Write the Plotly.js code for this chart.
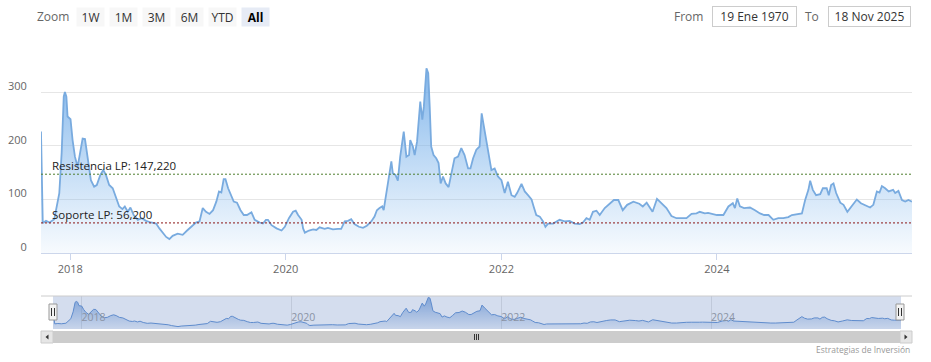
<!DOCTYPE html>
<html><head><meta charset="utf-8">
<script src="https://cdn.plot.ly/plotly-3.0.1.min.js"></script>
<style>html,body{margin:0;padding:0;background:#fff;overflow:hidden}#chart{width:931px;height:362px}</style>
</head><body><div id="chart"></div>
<script>
// ---------- DATA ----------
const dates = [
'2017-09-24','2017-09-30','2017-10-11','2017-10-23','2017-11-08','2017-11-25','2017-12-03','2017-12-10','2017-12-14','2017-12-19','2017-12-23',
'2018-01-02','2018-01-09','2018-01-17','2018-01-26','2018-02-04','2018-02-12','2018-02-20','2018-03-01','2018-03-12','2018-03-23','2018-04-01','2018-04-13','2018-04-23','2018-05-02','2018-05-13','2018-05-25','2018-06-05','2018-06-16','2018-06-27','2018-07-05','2018-07-15','2018-07-24','2018-08-04','2018-08-18','2018-08-31','2018-09-15','2018-10-02','2018-10-19','2018-10-30','2018-11-11','2018-11-22','2018-12-03','2018-12-14','2018-12-31',
'2019-01-17','2019-02-01','2019-02-14','2019-03-03','2019-03-15','2019-03-26','2019-04-06','2019-04-18','2019-04-30','2019-05-11','2019-05-20','2019-05-28','2019-06-05','2019-06-11','2019-06-20','2019-07-01','2019-07-09','2019-07-20','2019-08-01','2019-08-12','2019-08-23','2019-09-07','2019-09-18','2019-10-05','2019-10-16','2019-10-26','2019-11-02','2019-11-14','2019-12-01','2019-12-18','2019-12-29',
'2020-01-12','2020-01-26','2020-02-04','2020-02-12','2020-02-24','2020-02-29','2020-03-06','2020-03-20','2020-04-03','2020-04-14','2020-04-25','2020-05-12','2020-05-23','2020-06-09','2020-06-26','2020-07-07','2020-07-19','2020-07-30','2020-08-10','2020-08-21','2020-09-05','2020-09-19','2020-10-02','2020-10-17','2020-10-28','2020-11-05','2020-11-14','2020-11-23','2020-11-28','2020-12-07','2020-12-16','2020-12-24','2020-12-29',
'2021-01-07','2021-01-15','2021-01-23','2021-02-04','2021-02-13','2021-02-22','2021-02-26','2021-03-07','2021-03-13','2021-03-21','2021-04-01','2021-04-08','2021-04-13','2021-04-22','2021-04-28','2021-05-03','2021-05-08','2021-05-16','2021-05-25','2021-06-02','2021-06-09','2021-06-17','2021-06-26','2021-07-06','2021-07-15','2021-07-26','2021-08-07','2021-08-18','2021-08-29','2021-09-10','2021-09-18','2021-09-27','2021-10-08','2021-10-19','2021-10-26','2021-11-05','2021-11-16','2021-11-28','2021-12-09','2021-12-20',
'2022-01-01','2022-01-12','2022-01-23','2022-02-04','2022-02-15','2022-02-23','2022-03-10','2022-03-21','2022-04-01','2022-04-13','2022-04-20','2022-04-29','2022-05-11','2022-05-22','2022-05-30','2022-06-08','2022-06-25','2022-07-17','2022-08-03','2022-08-20','2022-09-06','2022-09-23','2022-10-04','2022-10-16','2022-10-27','2022-11-07','2022-11-19','2022-11-30','2022-12-17',
'2023-01-03','2023-01-17','2023-02-01','2023-02-16','2023-03-03','2023-03-24','2023-04-13','2023-04-25','2023-05-08','2023-05-17','2023-05-28','2023-06-12','2023-06-27','2023-07-14','2023-07-31','2023-08-17','2023-09-03','2023-09-20','2023-10-07','2023-10-24','2023-11-04','2023-11-21','2023-12-02','2023-12-14',
'2024-01-01','2024-01-23','2024-02-09','2024-02-24','2024-03-02','2024-03-10','2024-03-19','2024-04-02','2024-04-22','2024-05-09','2024-05-26','2024-06-09','2024-06-24','2024-07-10','2024-07-27','2024-08-13','2024-08-30','2024-09-11','2024-09-28','2024-10-15','2024-10-26','2024-11-06','2024-11-12','2024-11-21','2024-12-02','2024-12-16','2024-12-25',
'2025-01-07','2025-01-14','2025-01-22','2025-01-30','2025-02-08','2025-02-22','2025-03-05','2025-03-18','2025-04-02','2025-04-19','2025-05-03','2025-05-17','2025-06-03','2025-06-14','2025-06-26','2025-07-05','2025-07-13','2025-07-24','2025-08-05','2025-08-20','2025-08-27','2025-09-07','2025-09-19','2025-09-30','2025-10-11','2025-10-23'
];
const values = [
227,56,60,57,63,112,187,292,301,292,255,
250,211,180,161,193,214,213,174,136,124,127,146,155,146,127,121,105,87,82,87,77,85,71,62,65,60,57,55,46,37,30,26,32,36,
34,42,49,57,59,84,77,73,80,96,115,113,138,138,121,105,96,94,80,71,71,76,62,57,55,62,62,52,46,42,49,
65,77,79,71,62,46,38,42,44,43,48,45,47,44,45,45,59,60,63,54,49,47,51,59,68,80,84,87,80,112,143,171,149,
146,135,180,227,180,183,211,199,183,208,283,249,273,345,336,273,199,183,177,168,130,143,130,123,146,177,180,196,183,158,158,177,193,199,261,227,196,155,158,143,
136,112,133,108,105,112,129,115,108,100,87,71,68,59,49,55,55,62,59,60,55,54,57,65,62,77,79,71,84,
93,99,99,80,90,96,92,87,94,87,77,101,93,84,69,65,65,65,73,74,77,74,75,73,
71,71,87,93,84,102,87,84,85,80,74,71,71,62,65,65,67,71,72,74,99,118,135,118,108,110,121,
121,108,127,130,112,94,90,77,87,100,93,90,85,90,115,113,125,121,115,118,112,116,99,96,99,96
];
const resistance = 147.22;
const support = 56.2;
const resistanceLabel = 'Resistencia LP: 147,220';
const supportLabel = 'Soporte LP: 56,200';
const yTickValues = [0, 100, 200, 300];
const xTickYears = ['2018', '2020', '2022', '2024'];
const zoomLabel = 'Zoom';
const zoomButtons = ['1W', '1M', '3M', '6M', 'YTD', 'All'];
const activeButton = 'All';
const fromLabel = 'From', toLabel = 'To';
const fromDate = '19 Ene 1970', toDate = '18 Nov 2025';
const credit = 'Estrategias de Inversión';

// ---------- LAYOUT HELPERS ----------
const W = 931, H = 362, ML = 41, MR = 19, MT = 40, MB = 33;
const PW = W - ML - MR, PH = H - MT - MB;
const px = x => (x - ML) / PW;
const py = y => (H - MB - y) / PH;
const FONT = 'Open Sans, DejaVu Sans, sans-serif';
const xTickVals = xTickYears.map(y => y + '-01-01');

const traces = [
  {
    x: dates, y: values, type: 'scatter', mode: 'lines',
    line: {color: '#79abdf', width: 1.8},
    fill: 'tozeroy',
    fillgradient: {type: 'vertical', start: 0, stop: 340,
      colorscale: [[0, 'rgba(124,181,236,0.06)'], [1, 'rgba(110,170,232,0.85)']]},
    hoverinfo: 'skip', xaxis: 'x', yaxis: 'y'
  },
  {
    x: dates, y: values, type: 'scatter', mode: 'lines',
    line: {color: '#5d8fd2', width: 1},
    fill: 'tozeroy',
    fillgradient: {type: 'vertical', start: 0, stop: 340,
      colorscale: [[0, 'rgba(93,143,210,0.1)'], [1, 'rgba(93,143,210,0.7)']]},
    hoverinfo: 'skip', xaxis: 'x2', yaxis: 'y2'
  }
];

const shapes = [
  // support / resistance
  {type: 'line', xref: 'x domain', x0: 0, x1: 1, yref: 'y', y0: resistance, y1: resistance,
   line: {color: '#4f7f2f', width: 1, dash: '2px,2px'}},
  {type: 'line', xref: 'x domain', x0: 0, x1: 1, yref: 'y', y0: support, y1: support,
   line: {color: '#8b1515', width: 1, dash: '2px,2px'}},
  // navigator mask
  {type: 'rect', xref: 'x2 domain', x0: 0, x1: 1, yref: 'y2 domain', y0: 0, y1: 1,
   fillcolor: 'rgba(102,133,194,0.28)', line: {width: 0}, layer: 'above'},
  // navigator top outline
  {type: 'line', xref: 'paper', x0: 0, x1: 1, yref: 'paper', y0: py(296), y1: py(296),
   line: {color: '#cccccc', width: 1}},
  // scrollbar track
  {type: 'rect', xref: 'paper', yref: 'paper', x0: px(41), x1: px(912), y0: py(343), y1: py(331),
   fillcolor: '#f2f2f2', line: {width: 0}},
  // scrollbar thumb
  {type: 'rect', xref: 'paper', yref: 'paper', x0: px(53), x1: px(900), y0: py(343), y1: py(331),
   fillcolor: '#cccccc', line: {width: 0}},
  // arrow buttons
  {type: 'rect', xref: 'paper', yref: 'paper', x0: px(41), x1: px(53), y0: py(343), y1: py(331),
   fillcolor: '#e6e6e6', line: {color: '#cccccc', width: 1}},
  {type: 'rect', xref: 'paper', yref: 'paper', x0: px(900), x1: px(912), y0: py(343), y1: py(331),
   fillcolor: '#e6e6e6', line: {color: '#cccccc', width: 1}},
  {type: 'path', xref: 'paper', yref: 'paper', fillcolor: '#333', line: {width: 0},
   path: `M${px(45.5)},${py(337)} L${px(48.5)},${py(334.5)} L${px(48.5)},${py(339.5)} Z`},
  {type: 'path', xref: 'paper', yref: 'paper', fillcolor: '#333', line: {width: 0},
   path: `M${px(907.5)},${py(337)} L${px(904.5)},${py(334.5)} L${px(904.5)},${py(339.5)} Z`}
];
// grip lines in the scrollbar
[-2, 0, 2].forEach(d => shapes.push({type: 'line', xref: 'paper', yref: 'paper',
  x0: px(476.5 + d), x1: px(476.5 + d), y0: py(334), y1: py(340), line: {color: '#333', width: 1}}));
// navigator handles
[53, 900].forEach(h => {
  shapes.push({type: 'rect', xref: 'paper', yref: 'paper', x0: px(h - 4), x1: px(h + 4),
    y0: py(320), y1: py(304), fillcolor: '#f2f2f2', line: {color: '#999999', width: 1}});
  [-1.5, 1.5].forEach(d => shapes.push({type: 'line', xref: 'paper', yref: 'paper',
    x0: px(h + d), x1: px(h + d), y0: py(308), y1: py(316), line: {color: '#333', width: 1}}));
});

const annotations = [
  {xref: 'paper', yref: 'y', x: px(51), y: resistance, xanchor: 'left', yanchor: 'bottom',
   text: resistanceLabel, showarrow: false, font: {family: FONT, size: 11.5, color: '#222'}, borderpad: 0, yshift: 0},
  {xref: 'paper', yref: 'y', x: px(51), y: support, xanchor: 'left', yanchor: 'bottom',
   text: supportLabel, showarrow: false, font: {family: FONT, size: 11.5, color: '#222'}, borderpad: 0, yshift: 0},
  {xref: 'paper', yref: 'paper', x: px(71), y: py(16), xanchor: 'right', yanchor: 'middle',
   text: zoomLabel, showarrow: false, font: {family: FONT, size: 12, color: '#666'}},
  {xref: 'paper', yref: 'paper', x: px(705), y: py(16), xanchor: 'right', yanchor: 'middle',
   text: fromLabel, showarrow: false, font: {family: FONT, size: 12, color: '#666'}},
  {xref: 'paper', yref: 'paper', x: px(821), y: py(16), xanchor: 'right', yanchor: 'middle',
   text: toLabel, showarrow: false, font: {family: FONT, size: 12, color: '#666'}},
  {xref: 'paper', yref: 'paper', x: px(712), y: py(6), xanchor: 'left', yanchor: 'top',
   text: fromDate, showarrow: false, width: 83, height: 19, borderpad: 0, bgcolor: '#fff',
   bordercolor: '#cccccc', borderwidth: 1, font: {family: FONT, size: 12, color: '#333'}},
  {xref: 'paper', yref: 'paper', x: px(828), y: py(6), xanchor: 'left', yanchor: 'top',
   text: toDate, showarrow: false, width: 81, height: 19, borderpad: 0, bgcolor: '#fff',
   bordercolor: '#cccccc', borderwidth: 1, font: {family: FONT, size: 12, color: '#333'}},
  {xref: 'paper', yref: 'paper', x: px(912), y: py(349), xanchor: 'right', yanchor: 'middle',
   text: credit, showarrow: false, font: {family: FONT, size: 8.5, color: '#999'}}
];
zoomButtons.forEach((b, i) => {
  const active = b === activeButton;
  annotations.push({xref: 'paper', yref: 'paper', x: px(76 + 33 * i), y: py(7),
    xanchor: 'left', yanchor: 'top', text: active ? '<b>' + b + '</b>' : b, showarrow: false,
    width: 27, height: 18, borderpad: 0, bgcolor: active ? '#e6ebf5' : '#f7f7f7',
    font: {family: FONT, size: 12, color: active ? '#000' : '#333'}});
});

const layout = {
  width: W, height: H,
  margin: {l: ML, r: MR, t: MT, b: MB, pad: 0},
  paper_bgcolor: '#fff', plot_bgcolor: '#fff',
  showlegend: false, hovermode: false,
  font: {family: FONT, size: 11, color: '#666'},
  xaxis: {type: 'date', domain: [0, 1], anchor: 'y', autorange: true,
    tickmode: 'array', tickvals: xTickVals, ticktext: xTickYears,
    ticks: 'outside', ticklen: 6, tickcolor: '#ccd6eb', tickwidth: 1,
    showgrid: false, showline: true, linecolor: '#ccd6eb', linewidth: 1, zeroline: false,
    tickfont: {family: FONT, size: 11, color: '#666'}, fixedrange: true},
  yaxis: {domain: [py(253), 1], anchor: 'x', range: [0, 398],
    tickmode: 'array', tickvals: yTickValues, ticktext: yTickValues.map(String),
    ticks: 'outside', ticklen: 11, tickcolor: 'rgba(0,0,0,0)', ticklabelshift: -6,
    showgrid: true, gridcolor: '#e6e6e6', gridwidth: 1, zeroline: false, showline: false,
    tickfont: {family: FONT, size: 11, color: '#666'}, fixedrange: true},
  xaxis2: {type: 'date', domain: [px(53), px(901)], anchor: 'y2', autorange: true,
    tickmode: 'array', tickvals: xTickVals, ticktext: xTickYears,
    ticks: '', ticklabelposition: 'inside right',
    showgrid: true, gridcolor: '#e3e3e3', gridwidth: 1, showline: false, zeroline: false,
    tickfont: {family: FONT, size: 10.5, color: '#999'}, fixedrange: true},
  yaxis2: {domain: [0, py(296)], anchor: 'x2', range: [0, 360],
    showticklabels: false, ticks: '', showgrid: false, zeroline: false, showline: false, fixedrange: true},
  shapes: shapes,
  annotations: annotations
};

Plotly.newPlot('chart', traces, layout, {displayModeBar: false, staticPlot: true});
</script>
</body></html>
